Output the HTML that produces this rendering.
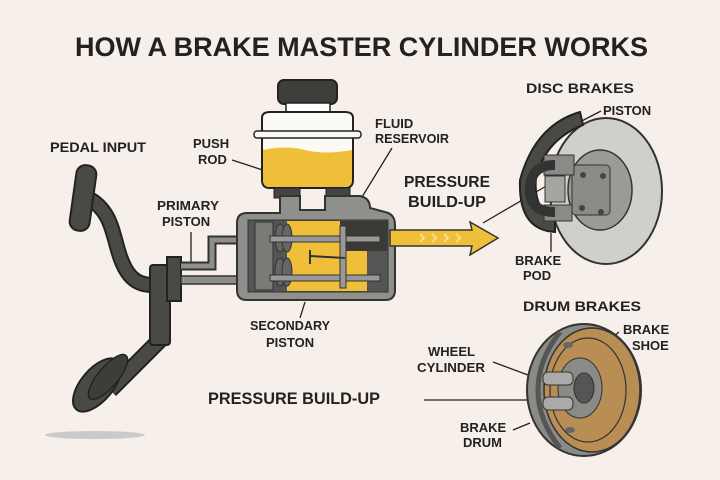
<!DOCTYPE html>
<html><head><meta charset="utf-8"><style>
html,body{margin:0;padding:0;background:#f6efea}
svg{display:block}
text{font-family:"Liberation Sans",sans-serif;font-weight:bold;fill:#222}
</style></head><body>
<svg width="720" height="480" viewBox="0 0 720 480" xmlns="http://www.w3.org/2000/svg">
<rect width="720" height="480" fill="#f6efea"/>
<text x="75" y="56" font-size="27" textLength="573" lengthAdjust="spacingAndGlyphs" fill="#1e1e1e">HOW A BRAKE MASTER CYLINDER WORKS</text>

<!-- labels -->
<g font-size="13">
<text x="50" y="152" font-size="14" textLength="96" lengthAdjust="spacingAndGlyphs">PEDAL INPUT</text>
<text x="193" y="148">PUSH</text>
<text x="198" y="164">ROD</text>
<text x="157" y="210" textLength="62" lengthAdjust="spacingAndGlyphs">PRIMARY</text>
<text x="162" y="226">PISTON</text>
<text x="375" y="128">FLUID</text>
<text x="375" y="143" textLength="74" lengthAdjust="spacingAndGlyphs">RESERVOIR</text>
<text x="404" y="187" font-size="16" textLength="86" lengthAdjust="spacingAndGlyphs">PRESSURE</text>
<text x="408" y="207" font-size="16" textLength="78" lengthAdjust="spacingAndGlyphs">BUILD-UP</text>
<text x="250" y="330" textLength="80" lengthAdjust="spacingAndGlyphs">SECONDARY</text>
<text x="266" y="347">PISTON</text>
<text x="526" y="93" font-size="14" textLength="108" lengthAdjust="spacingAndGlyphs">DISC BRAKES</text>
<text x="603" y="115">PISTON</text>
<text x="515" y="265">BRAKE</text>
<text x="523" y="280">POD</text>
<text x="523" y="311" font-size="14" textLength="118" lengthAdjust="spacingAndGlyphs">DRUM BRAKES</text>
<text x="623" y="334">BRAKE</text>
<text x="632" y="350">SHOE</text>
<text x="428" y="356">WHEEL</text>
<text x="417" y="372" textLength="68" lengthAdjust="spacingAndGlyphs">CYLINDER</text>
<text x="208" y="404" font-size="17" textLength="172" lengthAdjust="spacingAndGlyphs">PRESSURE BUILD-UP</text>
<text x="460" y="432">BRAKE</text>
<text x="463" y="447">DRUM</text>
</g>

<!-- leader lines -->
<g stroke="#222" stroke-width="1.3" fill="none">
<line x1="232" y1="160" x2="275" y2="174"/>
<line x1="191" y1="232" x2="191" y2="264"/>
<line x1="392" y1="148" x2="362" y2="197"/>
<line x1="305" y1="302" x2="300" y2="318"/>
<line x1="483" y1="223" x2="548" y2="185"/>
<line x1="601" y1="111" x2="574" y2="125"/>
<line x1="551" y1="233" x2="551" y2="252"/>
<line x1="619" y1="332" x2="605" y2="343"/>
<line x1="493" y1="362" x2="528" y2="375"/>
<line x1="424" y1="400" x2="535" y2="400"/>
<line x1="513" y1="430" x2="530" y2="423"/>
</g>

<!-- pedal -->
<ellipse cx="95" cy="435" rx="50" ry="4" fill="#bbb" opacity="0.7"/>
<path d="M88,198 C110,210 112,230 118,250 C125,275 135,285 152,285" stroke="#222" stroke-width="16" fill="none" stroke-linecap="round"/>
<path d="M88,198 C110,210 112,230 118,250 C125,275 135,285 152,285" stroke="#4a4a45" stroke-width="12" fill="none" stroke-linecap="round"/>
<rect x="73" y="165" width="20" height="66" rx="9" fill="#4a4a45" stroke="#222" stroke-width="2" transform="rotate(8 83 198)"/>
<path d="M160,300 L160,340 L110,390" stroke="#222" stroke-width="17" fill="none" stroke-linejoin="round"/>
<path d="M160,300 L160,340 L110,390" stroke="#4a4a45" stroke-width="13" fill="none" stroke-linejoin="round"/>
<rect x="150" y="265" width="20" height="80" rx="3" fill="#4a4a45" stroke="#222" stroke-width="2"/>
<rect x="167" y="257" width="14" height="44" fill="#4a4a45" stroke="#222" stroke-width="2"/>
<ellipse cx="97" cy="385" rx="16" ry="32" fill="#4a4a45" stroke="#222" stroke-width="2" transform="rotate(40 97 385)"/>
<ellipse cx="108" cy="377" rx="10" ry="28" fill="#3d3d39" stroke="#222" stroke-width="1.5" transform="rotate(40 108 377)"/>

<!-- rods -->
<path d="M181,266 L212,266 L212,240 L245,240" stroke="#333" stroke-width="9" fill="none"/>
<path d="M181,266 L212,266 L212,240 L245,240" stroke="#8e8e8a" stroke-width="5" fill="none"/>
<rect x="181" y="276" width="80" height="8" fill="#8e8e8a" stroke="#333" stroke-width="1.5"/>

<!-- reservoir -->
<rect x="278" y="80" width="59" height="24" rx="6" fill="#3e3e3a" stroke="#222" stroke-width="2"/>
<rect x="286" y="103" width="44" height="11" fill="#fff" stroke="#222" stroke-width="1.5"/>
<path d="M262,118 Q262,112 270,112 L345,112 Q353,112 353,118 L353,180 Q353,188 345,188 L270,188 Q262,188 262,180 Z" fill="#fbfaf5" stroke="#222" stroke-width="2"/>
<path d="M263,150 Q285,145 305,150 T352,150 L352,180 Q352,187 345,187 L270,187 Q263,187 263,180 Z" fill="#f0bf3a"/>
<rect x="254" y="131" width="107" height="7" rx="3" fill="#fbfaf5" stroke="#222" stroke-width="1.5"/>
<rect x="274" y="188" width="26" height="10" fill="#444" stroke="#222"/>
<rect x="326" y="188" width="24" height="10" fill="#444" stroke="#222"/>

<!-- master cylinder body -->
<path d="M280,196 L300,196 L300,210 L325,210 L325,196 L360,196 Q370,198 370,208 L385,212 Q395,214 395,225 L395,290 Q395,300 385,300 L247,300 Q237,300 237,290 L237,223 Q237,213 247,213 L280,213 Z" fill="#8f8f8b" stroke="#333" stroke-width="2"/>
<rect x="248" y="220" width="140" height="72" fill="#555" stroke="#333"/>
<rect x="287" y="221" width="80" height="70" fill="#f0bf3a"/>
<rect x="340" y="221" width="48" height="30" fill="#3a3a36"/>
<rect x="255" y="222" width="18" height="68" fill="#7a7a76" stroke="#333"/>
<g stroke="#333" fill="#666"><ellipse cx="280" cy="238" rx="5" ry="14"/><ellipse cx="287" cy="238" rx="5" ry="14"/><ellipse cx="280" cy="272" rx="5" ry="14"/><ellipse cx="287" cy="272" rx="5" ry="14"/></g>
<rect x="270" y="236" width="110" height="6" fill="#999" stroke="#333"/>
<rect x="270" y="275" width="110" height="6" fill="#999" stroke="#333"/>
<rect x="340" y="226" width="6" height="62" fill="#999" stroke="#333"/>
<line x1="310" y1="256" x2="345" y2="258" stroke="#333" stroke-width="2"/>
<line x1="310" y1="250" x2="310" y2="264" stroke="#333" stroke-width="2"/>

<!-- arrow -->
<path d="M390,230 L472,230 L470,222 L498,238 L470,255 L472,246 L390,246 Z" fill="#f0bf3a" stroke="#333" stroke-width="1.5"/>
<g stroke="#f8df8a" stroke-width="2" fill="none"><path d="M420,234 l4,4 -4,4"/><path d="M432,234 l4,4 -4,4"/><path d="M444,234 l4,4 -4,4"/><path d="M456,234 l4,4 -4,4"/></g>

<!-- disc brake -->
<ellipse cx="606" cy="191" rx="56" ry="73" fill="#cfcfcb" stroke="#333" stroke-width="2"/>
<ellipse cx="600" cy="190" rx="32" ry="40" fill="#9a9a96" stroke="#333" stroke-width="1.5"/>
<rect x="572" y="165" width="38" height="50" rx="4" fill="#8a8a86" stroke="#333"/>
<g fill="#444"><circle cx="603" cy="176" r="3"/><circle cx="601" cy="212" r="3"/><circle cx="583" cy="175" r="3"/><circle cx="582" cy="208" r="3"/></g>
<path d="M580,112 Q535,125 520,180 Q518,230 555,232 L555,218 Q533,210 536,178 Q545,140 583,125 Z" fill="#4a4a45" stroke="#222" stroke-width="2"/>
<rect x="544" y="155" width="30" height="20" fill="#8a8a86" stroke="#333"/>
<rect x="544" y="205" width="28" height="16" fill="#8a8a86" stroke="#333"/>
<path d="M555,165 Q530,165 530,190 Q530,212 555,212" stroke="#333" stroke-width="10" fill="none"/>
<rect x="545" y="176" width="20" height="26" fill="#a5a5a0" stroke="#333"/>

<!-- drum brake -->
<ellipse cx="584" cy="390" rx="57" ry="66" fill="#8a8a86" stroke="#333" stroke-width="2"/>
<ellipse cx="592" cy="390" rx="48" ry="62" fill="#b88e55" stroke="#333" stroke-width="1.5"/>
<ellipse cx="588" cy="390" rx="38" ry="52" fill="none" stroke="#333" stroke-width="1.2"/>
<path d="M560,332 Q538,360 538,390 Q538,420 560,448" fill="none" stroke="#555" stroke-width="5"/>
<ellipse cx="580" cy="388" rx="22" ry="30" fill="#8a8a86" stroke="#333"/>
<ellipse cx="584" cy="388" rx="10" ry="15" fill="#555" stroke="#333"/>
<rect x="543" y="372" width="30" height="13" rx="5" fill="#aaa" stroke="#333"/>
<rect x="543" y="397" width="30" height="13" rx="5" fill="#aaa" stroke="#333"/>
<ellipse cx="568" cy="345" rx="5" ry="3" fill="#666"/><ellipse cx="570" cy="430" rx="5" ry="3" fill="#666"/>
</svg>
</body></html>
